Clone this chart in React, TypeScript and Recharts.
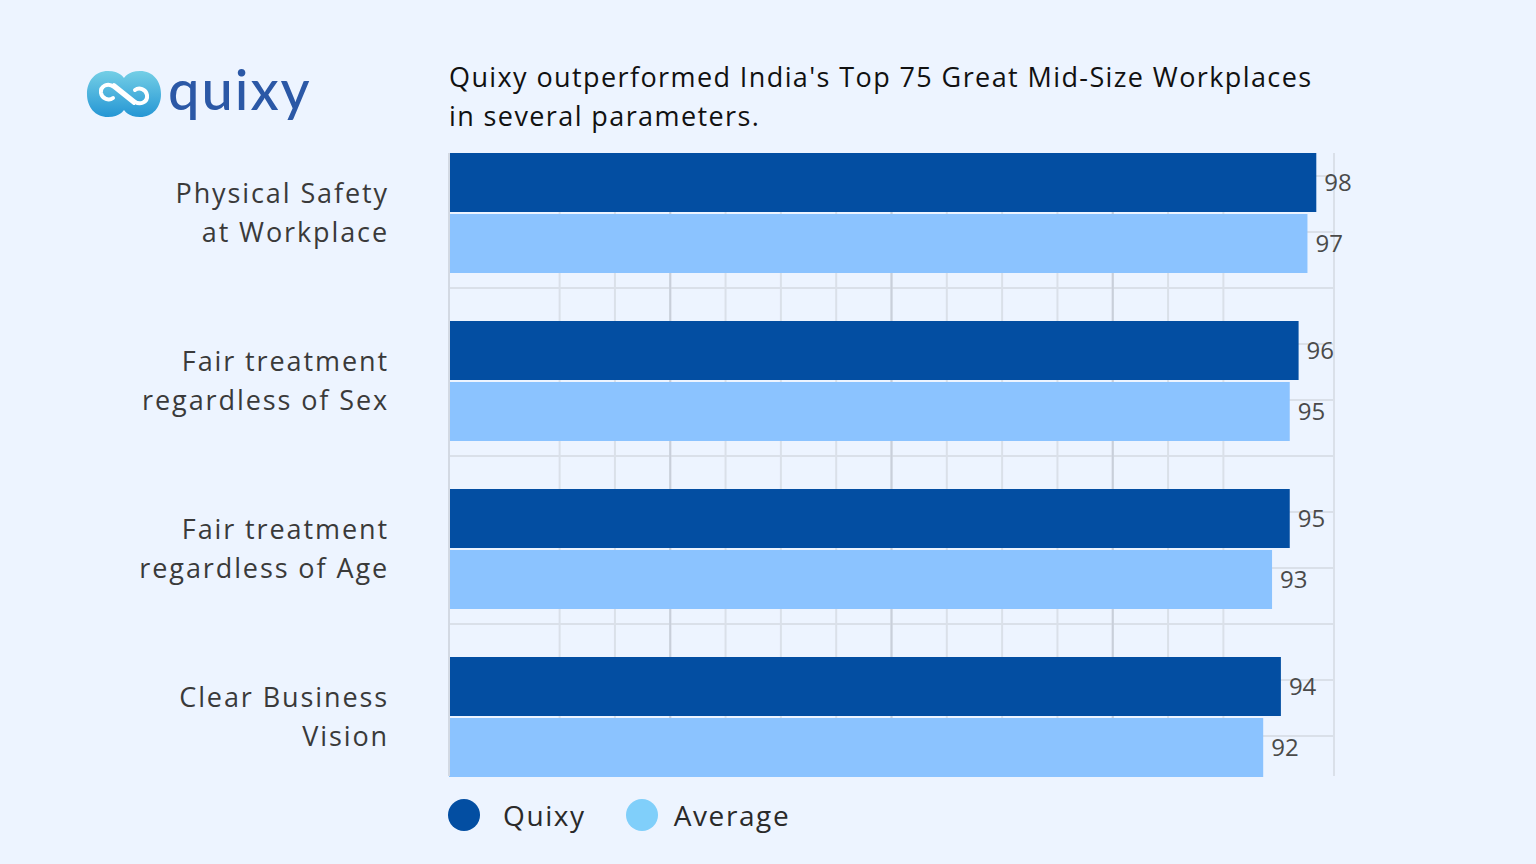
import React from 'react';
import { BarChart, Bar, XAxis, YAxis, CartesianGrid, LabelList } from 'recharts';

const categories = [
  ['Physical Safety', 'at Workplace'],
  ['Fair treatment', 'regardless of Sex'],
  ['Fair treatment', 'regardless of Age'],
  ['Clear Business', 'Vision'],
];
const quixyScores = [98, 96, 95, 94];
const averageScores = [97, 95, 93, 92];
const gridTicks = [12.5, 18.75, 25, 31.25, 37.5, 43.75, 50, 56.25, 62.5, 68.75, 75, 81.25, 87.5, 100];
const majorTicks = [25, 50, 75];
const X_MAX = 100;

const FONT = '"Open Sans", "Noto Sans", sans-serif';
const DARK = '#034EA2';
const LIGHT = '#8BC3FF';
const LEGEND_LIGHT = '#80CFFA';

const data = categories.map((lines, i) => ({
  name: lines.join('\n'),
  quixy: quixyScores[i],
  average: averageScores[i],
}));

// grid lines follow the value scale (0..X_MAX across the plot width)
const gridAt = (values: number[]) => ({ offset }: any) =>
  values.map((v) => offset.left + (offset.width * v) / X_MAX);

const CategoryTick = (props: any) => {
  const { x, y, payload } = props;
  const lines = String(payload.value).split('\n');
  return (
    <text x={x} y={y} textAnchor="end" fill="#3a3a3a" fontSize={27} fontFamily={FONT} letterSpacing={1.9}>
      {lines.map((l, i) => (
        <tspan key={i} x={x} dy={i === 0 ? -10 : 39}>
          {l}
        </tspan>
      ))}
    </text>
  );
};

const Logo = () => (
  <svg width={80} height={56} viewBox="0 0 80 56">
    <defs>
      <linearGradient id="lg" x1="0" y1="0" x2="0" y2="1">
        <stop offset="0%" stopColor="#74CFE6" />
        <stop offset="100%" stopColor="#2596D4" />
      </linearGradient>
    </defs>
    <path
      d="M24 5 C36 5 40 12 40 12 C40 12 44 5 56 5 C69 5 77 15 77 28 C77 41 69 51 56 51 C44 51 40 44 40 44 C40 44 36 51 24 51 C11 51 3 41 3 28 C3 15 11 5 24 5 Z"
      fill="url(#lg)"
    />
    <g fill="none" stroke="#fff" strokeWidth={4} strokeLinecap="round">
      <path d="M30 19 L50 35 C56 40 64 36 63 29 C62 23 55 21 51 24" />
      <path d="M50 37 L30 21 C24 16 16 20 17 27 C18 33 25 35 29 32" />
    </g>
  </svg>
);

export default function App() {
  return (
    <div
      style={{
        position: 'absolute',
        left: 0,
        top: 0,
        width: 1536,
        height: 864,
        background: '#EDF4FF',
        fontFamily: FONT,
        overflow: 'hidden',
      }}
    >
      <div style={{ position: 'absolute', left: 84, top: 66, display: 'flex', alignItems: 'center' }}>
        <Logo />
        <span
          style={{
            fontSize: 56,
            color: '#2B58A6',
            marginLeft: 4,
            marginTop: -12,
            fontFamily: '"Lato", sans-serif',
            fontWeight: 500,
            letterSpacing: 2,
          }}
        >
          quixy
        </span>
      </div>
      <div
        style={{
          position: 'absolute',
          left: 449,
          top: 57,
          fontSize: 27,
          lineHeight: '39px',
          color: '#111',
          letterSpacing: 1.4,
          whiteSpace: 'nowrap',
        }}
      >
        Quixy outperformed India's Top 75 Great Mid-Size Workplaces
        <br />
        in several parameters.
      </div>
      <div style={{ position: 'absolute', left: 0, top: 0 }}>
        <BarChart
          width={1536}
          height={864}
          data={data}
          layout="vertical"
          margin={{ top: 153, right: 202, bottom: 87, left: 0 }}
          barCategoryGap={24.5}
          barGap={2}
        >
          <CartesianGrid
            stroke="#DAE0E9"
            strokeWidth={2}
            verticalCoordinatesGenerator={gridAt(gridTicks)}
            horizontalCoordinatesGenerator={({ offset }: any) => {
              const pts: number[] = [];
              for (let y = offset.top + 23; y < offset.top + offset.height; y += 56) pts.push(y);
              return pts;
            }}
          />
          <CartesianGrid
            stroke="#C9CFDA"
            strokeWidth={2}
            horizontal={false}
            verticalCoordinatesGenerator={gridAt(majorTicks)}
          />
          <XAxis
            type="number"
            domain={[0, X_MAX]}
            ticks={gridTicks}
            tick={false}
            tickLine={false}
            axisLine={false}
            height={1}
          />
          <YAxis
            type="category"
            dataKey="name"
            width={449}
            tickLine={false}
            tickSize={0}
            tickMargin={60}
            axisLine={{ stroke: '#D3D9E3', strokeWidth: 2 }}
            padding={{ top: -24.5, bottom: -24.5 }}
            tick={<CategoryTick />}
          />
          <Bar dataKey="quixy" fill={DARK} isAnimationActive={false}>
            <LabelList dataKey="quixy" position="right" offset={8} fill="#4a4a4a" fontSize={24} fontFamily={FONT} />
          </Bar>
          <Bar dataKey="average" fill={LIGHT} isAnimationActive={false}>
            <LabelList dataKey="average" position="right" offset={8} fill="#4a4a4a" fontSize={24} fontFamily={FONT} />
          </Bar>
        </BarChart>
      </div>
      <div
        style={{
          position: 'absolute',
          left: 448,
          top: 796,
          display: 'flex',
          alignItems: 'center',
          fontSize: 28,
          color: '#2a2a2a',
          letterSpacing: 1.6,
        }}
      >
        <span style={{ width: 32, height: 32, borderRadius: 16, background: DARK, display: 'inline-block' }} />
        <span style={{ marginLeft: 23 }}>Quixy</span>
        <span style={{ width: 32, height: 32, borderRadius: 16, background: LEGEND_LIGHT, display: 'inline-block', marginLeft: 40 }} />
        <span style={{ marginLeft: 16 }}>Average</span>
      </div>
    </div>
  );
}
